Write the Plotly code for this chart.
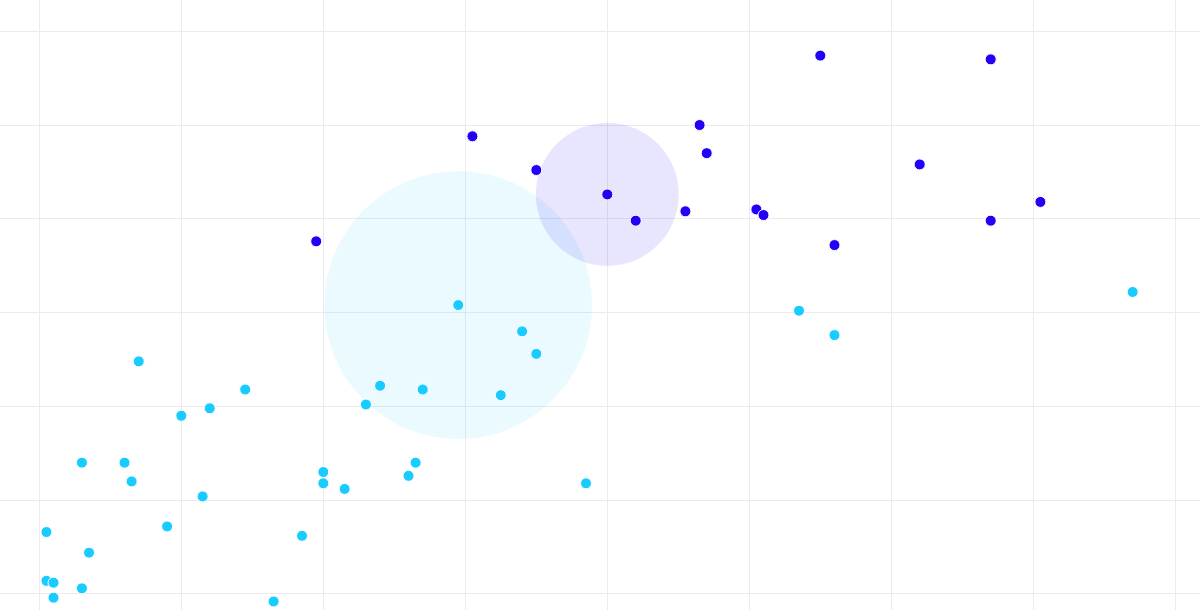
import plotly.graph_objects as go

# cluster A (dark blue)
blue_x = [5.50, 6.70, 3.05, 4.65, 4.70, 3.50, 4.00, 4.20, 4.55, 5.05, 5.10, 6.20, 6.70, 7.05, 5.60, 1.95]
blue_y = [5.74, 5.70, 4.88, 5.00, 4.70, 4.52, 4.26, 3.98, 4.08, 4.10, 4.04, 4.58, 3.98, 4.18, 3.72, 3.76]

# cluster B (cyan)
cyan_x = [7.70, 5.35, 5.60, 2.95, 3.40, 3.50, 3.25, 2.40, 2.70, 2.30, 1.45, 1.20, 1.00, 0.70, 0.30, 0.60, 0.65,
          1.15, 2.00, 2.00, 2.15, 2.65, 2.60, 3.85, 0.90, 0.05, 0.35, 1.85, 0.05, 0.10, 0.10, 0.30, 1.65]
cyan_y = [3.22, 3.02, 2.76, 3.08, 2.80, 2.56, 2.12, 2.22, 2.18, 2.02, 2.18, 1.98, 1.90, 2.48, 1.40, 1.40, 1.20,
          1.04, 1.30, 1.18, 1.12, 1.40, 1.26, 1.18, 0.72, 0.66, 0.44, 0.62, 0.14, 0.12, -0.04, 0.06, -0.08]

# centroids and their circle diameters (px)
centroid_x = [2.95, 4.00]
centroid_y = [3.08, 4.26]
centroid_size = [268, 143]

blue = "#2100F5"
cyan = "#19CCFF"

fig = go.Figure()

fig.add_trace(go.Scatter(x=centroid_x[:1], y=centroid_y[:1], mode="markers", hoverinfo="skip",
                         marker=dict(size=centroid_size[:1], color=cyan, opacity=0.09, line=dict(width=0))))
fig.add_trace(go.Scatter(x=centroid_x[1:], y=centroid_y[1:], mode="markers", hoverinfo="skip",
                         marker=dict(size=centroid_size[1:], color=blue, opacity=0.1, line=dict(width=0))))

fig.add_trace(go.Scatter(x=cyan_x, y=cyan_y, mode="markers",
                         marker=dict(size=11, color=cyan, line=dict(width=1, color="white"))))
fig.add_trace(go.Scatter(x=blue_x, y=blue_y, mode="markers",
                         marker=dict(size=11, color=blue, line=dict(width=1, color="white"))))

fig.update_layout(
    width=1200, height=610,
    margin=dict(l=0, r=0, t=0, b=0),
    plot_bgcolor="white", paper_bgcolor="white",
    showlegend=False,
)
fig.update_xaxes(range=[-0.277, 8.174], dtick=1, tick0=0, showgrid=True, gridcolor="#EBEBEB",
                 zeroline=False, showticklabels=False, showline=False, ticks="")
fig.update_yaxes(range=[-0.171, 6.333], dtick=1, tick0=0, showgrid=True, gridcolor="#EBEBEB",
                 zeroline=False, showticklabels=False, showline=False, ticks="")

# page body has a default 8px margin; drop it so the chart fills the window
fig.write_html("out.html", config={"displayModeBar": False},
               post_script="document.body.style.margin='0px';")
